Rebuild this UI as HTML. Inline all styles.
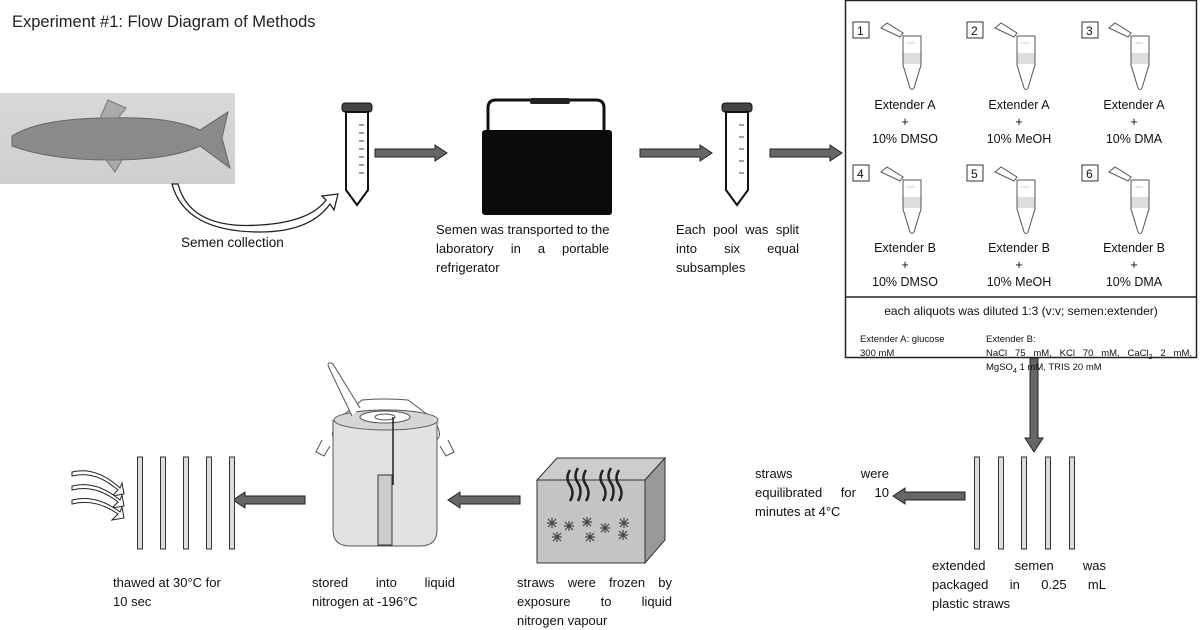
<!DOCTYPE html>
<html><head><meta charset="utf-8"><style>
body{margin:0;width:1200px;height:629px;background:#fff;position:relative;overflow:hidden;font-family:"Liberation Sans",sans-serif;color:#111}
.t{position:absolute;font-size:13px;line-height:19px}
.t span{display:block;text-align:justify;text-align-last:justify;white-space:nowrap}
.t span.l{text-align-last:left}
.c{position:absolute;font-size:12.5px;line-height:17px;text-align:center;width:110px}
svg{position:absolute;left:0;top:0}
</style></head><body>
<svg width="1200" height="629" viewBox="0 0 1200 629">
<defs>
<linearGradient id="fg" x1="0" y1="0" x2="0" y2="1"><stop offset="0" stop-color="#d8d8d8"/><stop offset="1" stop-color="#cfcfcf"/></linearGradient>
<g id="ar"><path d="M0,-4 H-60 V-8 L-72,0 L-60,8 V4 H0 Z" fill="#666" stroke="#222" stroke-width="1"/></g>
<g id="arr"><path d="M0,-4 H60 V-8 L72,0 L60,8 V4 H0 Z" fill="#666" stroke="#222" stroke-width="1"/></g>
<g id="ep"><path d="M-24,-42 l6,-5 l16,10 l-3,4 z" fill="#fff" stroke="#555"/><path d="M-2,-34 H16 V-5 L9,18 Q7,21 5,18 L-2,-5 Z" fill="#fff" stroke="#555"/><rect x="-1.5" y="-17" width="17" height="11" fill="#ddd"/><line x1="2" y1="-27" x2="10" y2="-27" stroke="#ccc"/></g>
<g id="st"><rect x="-2.5" y="0" width="5" height="92" fill="#ddd" stroke="#333"/></g>
<g id="sn" stroke="#444" stroke-width="1.2"><line x1="-5" y1="0" x2="5" y2="0"/><line x1="0" y1="-5" x2="0" y2="5"/><line x1="-4" y1="-4" x2="4" y2="4"/><line x1="-4" y1="4" x2="4" y2="-4"/></g>
</defs>
<text x="12" y="27" font-family="Liberation Sans" font-size="16.5" fill="#222">Experiment #1: Flow Diagram of Methods</text>
<rect x="0" y="93" width="235" height="91" fill="url(#fg)"/>
<path d="M12,136 Q40,118 110,118 Q170,116 200,130 L228,112 L222,138 L230,168 L200,146 Q170,160 110,160 Q50,160 12,146 Z" fill="#8a8a8a" stroke="#666"/>
<path d="M100,118 L108,100 L126,108 L118,118Z M106,160 L115,172 L122,160Z" fill="#aaa" stroke="#777"/>
<path d="M178,184 Q190,230 260,225 Q310,222 326,200 L322,196 L338,194 L334,210 L330,204 Q310,232 260,232 Q185,232 172,184 Z" fill="#fff" stroke="#222" stroke-width="1.3"/>
<rect x="342" y="103" width="30" height="9" rx="3" fill="#444" stroke="#111"/>
<path d="M346,112 H368 V190 L357,205 L346,190 Z" fill="#fff" stroke="#111" stroke-width="2"/>
<g stroke="#444"><line x1="359" y1="125" x2="364" y2="125"/><line x1="359" y1="133" x2="364" y2="133"/><line x1="359" y1="141" x2="364" y2="141"/><line x1="359" y1="149" x2="364" y2="149"/><line x1="359" y1="157" x2="364" y2="157"/><line x1="359" y1="165" x2="364" y2="165"/><line x1="359" y1="173" x2="364" y2="173"/></g>
<use href="#arr" x="375" y="153"/>
<path d="M488,132 V108 Q488,100 496,100 H596 Q604,100 604,108 V132" fill="none" stroke="#111" stroke-width="3"/>
<rect x="530" y="98" width="40" height="6" rx="2" fill="#222"/>
<rect x="482" y="130" width="130" height="85" rx="3" fill="#0b0b0b"/>
<use href="#arr" x="640" y="153"/>
<rect x="722" y="103" width="30" height="9" rx="3" fill="#444" stroke="#111"/>
<path d="M726,112 H748 V190 L737,205 L726,190 Z" fill="#fff" stroke="#111" stroke-width="2"/>
<g stroke="#444"><line x1="739" y1="125" x2="744" y2="125"/><line x1="739" y1="137" x2="744" y2="137"/><line x1="739" y1="149" x2="744" y2="149"/><line x1="739" y1="161" x2="744" y2="161"/><line x1="739" y1="173" x2="744" y2="173"/></g>
<use href="#arr" x="770" y="153"/>
<rect x="845.5" y="0.5" width="351" height="357" fill="#fff" stroke="#222" stroke-width="1.5"/>
<line x1="845" y1="297" x2="1197" y2="297" stroke="#222" stroke-width="1.5"/>
<g font-family="Liberation Sans" font-size="12" fill="#111">
<rect x="853" y="22" width="16" height="16" fill="#fff" stroke="#333"/><text x="857" y="35">1</text>
<rect x="967" y="22" width="16" height="16" fill="#fff" stroke="#333"/><text x="971" y="35">2</text>
<rect x="1082" y="22" width="16" height="16" fill="#fff" stroke="#333"/><text x="1086" y="35">3</text>
<rect x="853" y="165" width="16" height="16" fill="#fff" stroke="#333"/><text x="857" y="178">4</text>
<rect x="967" y="165" width="16" height="16" fill="#fff" stroke="#333"/><text x="971" y="178">5</text>
<rect x="1082" y="165" width="16" height="16" fill="#fff" stroke="#333"/><text x="1086" y="178">6</text>
</g>
<use href="#ep" x="905" y="70"/><use href="#ep" x="1019" y="70"/><use href="#ep" x="1133" y="70"/>
<use href="#ep" x="905" y="214"/><use href="#ep" x="1019" y="214"/><use href="#ep" x="1133" y="214"/>
<path d="M1030,358 V438 H1025 L1034,452 L1043,438 H1038 V358 Z" fill="#666" stroke="#222"/>
<use href="#st" x="977" y="457"/><use href="#st" x="1001" y="457"/><use href="#st" x="1024" y="457"/><use href="#st" x="1048" y="457"/><use href="#st" x="1072" y="457"/>
<use href="#ar" x="965" y="496"/>
<path d="M537,480 L557,458 H665 L645,480 Z" fill="#ccc" stroke="#333"/>
<path d="M645,480 L665,458 V540 L645,563 Z" fill="#999" stroke="#333"/>
<rect x="537" y="480" width="108" height="83" fill="#c4c4c4" stroke="#333"/>
<g fill="none" stroke="#222" stroke-width="2.5"><path d="M570,470 q-5,8 0,15 q5,8 0,16"/><path d="M578,468 q-5,8 0,15 q5,8 0,18"/><path d="M586,470 q-5,8 0,15 q5,8 0,16"/><path d="M603,470 q-5,8 0,15 q5,8 0,16"/><path d="M611,468 q-5,8 0,15 q5,8 0,18"/><path d="M619,470 q-5,8 0,15 q5,8 0,16"/></g>
<use href="#sn" x="552" y="523"/><use href="#sn" x="569" y="526"/><use href="#sn" x="587" y="522"/><use href="#sn" x="605" y="528"/><use href="#sn" x="624" y="523"/><use href="#sn" x="557" y="537"/><use href="#sn" x="590" y="537"/><use href="#sn" x="623" y="535"/>
<use href="#ar" x="520" y="500"/>
<path d="M335,456 L340,442 Q325,438 340,418 L362,400 Q385,398 408,400 L432,418 Q447,438 432,442 L437,456" fill="none" stroke="#555"/>
<path d="M333,420 V530 Q333,546 350,546 H420 Q437,546 437,530 V420" fill="#e2e2e2" stroke="#555"/>
<ellipse cx="386" cy="420" rx="52" ry="10" fill="#d6d6d6" stroke="#555"/>
<ellipse cx="385" cy="417" rx="25" ry="6" fill="#fff" stroke="#555"/>
<ellipse cx="385" cy="417" rx="10" ry="3" fill="#fff" stroke="#555"/>
<path d="M352,416 L330,370 Q325,360 333,364 L360,408" fill="#fff" stroke="#555"/>
<path d="M322,440 L316,452 L324,456 L330,446 M448,440 L454,452 L446,456 L440,446" fill="none" stroke="#555"/>
<line x1="393" y1="417" x2="393" y2="485" stroke="#222" stroke-width="1.5"/>
<rect x="378" y="475" width="14" height="70" fill="#ccc" stroke="#333"/>
<use href="#ar" x="305" y="500"/>
<use href="#st" x="140" y="457"/><use href="#st" x="163" y="457"/><use href="#st" x="186" y="457"/><use href="#st" x="209" y="457"/><use href="#st" x="232" y="457"/>
<g fill="#fff" stroke="#222"><path d="M72,476 Q95,470 118,490 L112,496 L124,494 L122,483 L120,488 Q96,466 72,472 Z"/><path d="M72,490 Q95,484 118,502 L112,508 L124,506 L122,495 L120,500 Q96,480 72,486 Z"/><path d="M72,504 Q95,498 118,514 L112,520 L124,518 L122,507 L120,512 Q96,494 72,500 Z"/></g>
</svg>
<div class="t" style="left:181px;top:233px;font-size:13.5px"><span class="l">Semen collection</span></div>
<div class="t" style="left:436px;top:220px;width:173px"><span>Semen was transported to the</span><span>laboratory in a portable</span><span class="l">refrigerator</span></div>
<div class="t" style="left:676px;top:220px;width:123px"><span>Each pool was split</span><span>into six equal</span><span class="l">subsamples</span></div>
<div class="c" style="left:850px;top:97px">Extender A<br>+<br>10% DMSO</div>
<div class="c" style="left:964px;top:97px">Extender A<br>+<br>10% MeOH</div>
<div class="c" style="left:1079px;top:97px">Extender A<br>+<br>10% DMA</div>
<div class="c" style="left:850px;top:240px">Extender B<br>+<br>10% DMSO</div>
<div class="c" style="left:964px;top:240px">Extender B<br>+<br>10% MeOH</div>
<div class="c" style="left:1079px;top:240px">Extender B<br>+<br>10% DMA</div>
<div class="c" style="left:845px;top:303px;width:352px;font-size:12px">each aliquots was diluted 1:3 (v:v; semen:extender)</div>
<div class="t" style="left:860px;top:333px;width:110px;font-size:9.5px;line-height:14px"><span class="l">Extender A: glucose</span><span class="l">300 mM</span></div>
<div class="t" style="left:986px;top:333px;width:206px;font-size:9.5px;line-height:14px"><span class="l">Extender B:</span><span>NaCl 75 mM, KCl 70 mM, CaCl<sub style="font-size:7px;line-height:0">2</sub> 2 mM,</span><span class="l">MgSO<sub style="font-size:7px;line-height:0">4</sub> 1 mM, TRIS 20 mM</span></div>
<div class="t" style="left:755px;top:464px;width:134px"><span>straws were</span><span>equilibrated for 10</span><span class="l">minutes at 4°C</span></div>
<div class="t" style="left:932px;top:556px;width:174px"><span>extended semen was</span><span>packaged in 0.25 mL</span><span class="l">plastic straws</span></div>
<div class="t" style="left:517px;top:573px;width:155px"><span>straws were frozen by</span><span>exposure to liquid</span><span class="l">nitrogen vapour</span></div>
<div class="t" style="left:312px;top:573px;width:143px"><span>stored into liquid</span><span class="l">nitrogen at -196°C</span></div>
<div class="t" style="left:113px;top:573px;width:135px"><span class="l">thawed at 30°C for</span><span class="l">10 sec</span></div>
</body></html>
